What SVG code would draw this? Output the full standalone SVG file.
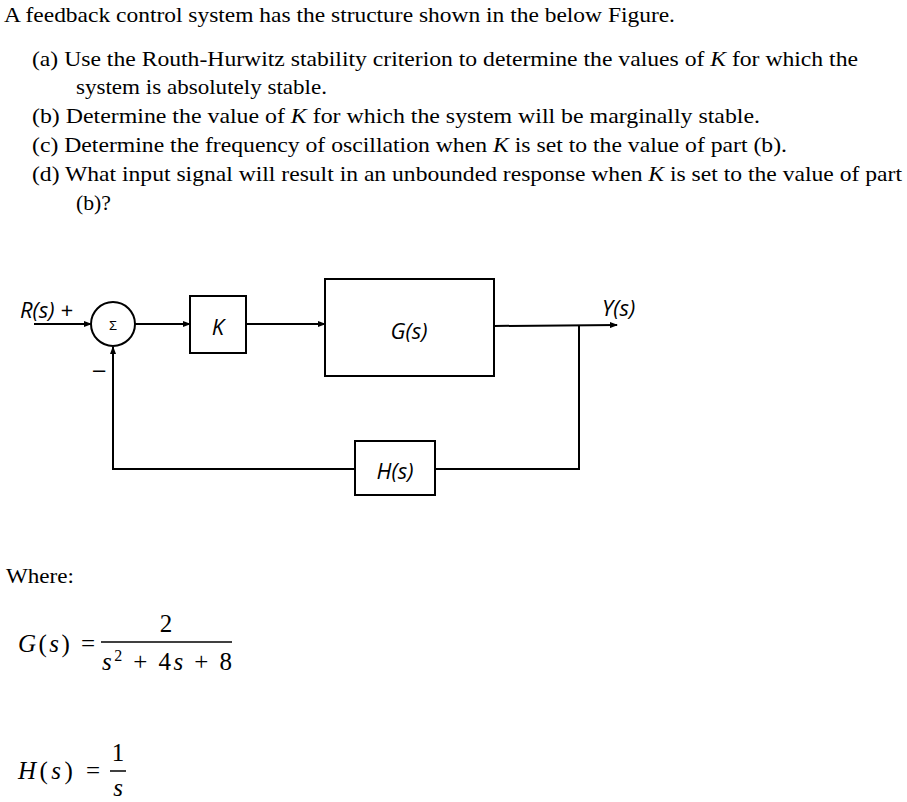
<svg xmlns="http://www.w3.org/2000/svg" width="907" height="802" viewBox="0 0 907 802">
<style>
.t{font-family:"Liberation Serif",serif;font-size:22px;fill:#000}
.d{font-family:"Open Sans","Liberation Sans",sans-serif;font-size:22px;fill:#000;font-style:italic}
.m{font-family:"Liberation Serif",serif;font-size:25px;fill:#000}
.b{fill:#fff;stroke:#000;stroke-width:2}
.c{fill:none;stroke:#000;stroke-width:2}
</style>
<defs><marker id="a" markerWidth="8" markerHeight="6" refX="7" refY="3" orient="auto" markerUnits="userSpaceOnUse"><path d="M0,0L8,3L0,6z" fill="#000"/></marker></defs>
<rect width="907" height="802" fill="#fff"/>
<g id="text">
<text class="t" x="4" y="22" textLength="671" lengthAdjust="spacingAndGlyphs">A feedback control system has the structure shown in the below Figure.</text>
<text class="t" x="32" y="66" textLength="826" lengthAdjust="spacingAndGlyphs">(a) Use the Routh-Hurwitz stability criterion to determine the values of <tspan font-style="italic">K</tspan> for which the</text>
<text class="t" x="76" y="94" textLength="251" lengthAdjust="spacingAndGlyphs">system is absolutely stable.</text>
<text class="t" x="32" y="123" textLength="728" lengthAdjust="spacingAndGlyphs">(b) Determine the value of <tspan font-style="italic">K</tspan> for which the system will be marginally stable.</text>
<text class="t" x="32" y="152" textLength="755" lengthAdjust="spacingAndGlyphs">(c) Determine the frequency of oscillation when <tspan font-style="italic">K</tspan> is set to the value of part (b).</text>
<text class="t" x="32" y="181" textLength="870" lengthAdjust="spacingAndGlyphs">(d) What input signal will result in an unbounded response when <tspan font-style="italic">K</tspan> is set to the value of part</text>
<text class="t" x="76" y="210" textLength="35" lengthAdjust="spacingAndGlyphs">(b)?</text>
<text class="t" x="6" y="583" textLength="68" lengthAdjust="spacingAndGlyphs">Where:</text>
</g>
<g id="connectors">
<line class="c" x1="34" y1="324" x2="91" y2="324" marker-end="url(#a)"/>
<line class="c" x1="135" y1="324" x2="190" y2="324" marker-end="url(#a)"/>
<line class="c" x1="246" y1="324" x2="325" y2="324" marker-end="url(#a)"/>
<line class="c" x1="494" y1="326" x2="617" y2="325" marker-end="url(#a)"/>
<polyline class="c" points="579,325 579,469 435,469"/>
<polyline class="c" points="355,469 113,469 113,347" marker-end="url(#a)"/>
</g>
<g id="sum"><circle class="b" cx="113" cy="324" r="22"/><text x="113" y="330" text-anchor="middle" font-family="Liberation Sans,sans-serif" font-size="13">Σ</text></g>
<g id="K"><rect class="b" x="190" y="296" width="56" height="57"/><text class="d" x="218" y="335" text-anchor="middle" font-size="24">K</text></g>
<g id="G"><rect class="b" x="325" y="279" width="169" height="97"/><text class="d" x="409" y="339" text-anchor="middle" font-size="27">G(s)</text></g>
<g id="H"><rect class="b" x="355" y="441" width="80" height="54"/><text class="d" x="395" y="479" text-anchor="middle" font-size="25">H(s)</text></g>
<g id="labels">
<text class="d" x="20" y="318">R(s) +</text>
<text class="d" x="602" y="316">Y(s)</text>
<text x="93" y="377" font-family="Liberation Sans,sans-serif" font-size="22">–</text>
</g>
<g id="eqs">
<text class="m" x="18" y="652" textLength="77" lengthAdjust="spacing"><tspan font-style="italic">G</tspan>(<tspan font-style="italic">s</tspan>) =</text>
<text class="m" x="166" y="632" text-anchor="middle">2</text>
<line x1="101" y1="642" x2="232" y2="642" stroke="#000" stroke-width="1.5"/>
<text class="m" x="102" y="670" textLength="130" lengthAdjust="spacing"><tspan font-style="italic">s</tspan><tspan font-size="16" dy="-9">2</tspan><tspan dy="9"> + 4</tspan><tspan font-style="italic">s</tspan> + 8</text>
<text class="m" x="18" y="779" textLength="82" lengthAdjust="spacing"><tspan font-style="italic">H</tspan>(<tspan font-style="italic">s</tspan>) =</text>
<text class="m" x="118" y="761" text-anchor="middle">1</text>
<line x1="110" y1="771" x2="126" y2="771" stroke="#000" stroke-width="1.5"/>
<text class="m" x="118" y="796" text-anchor="middle" font-style="italic">s</text>
</g>
</svg>
